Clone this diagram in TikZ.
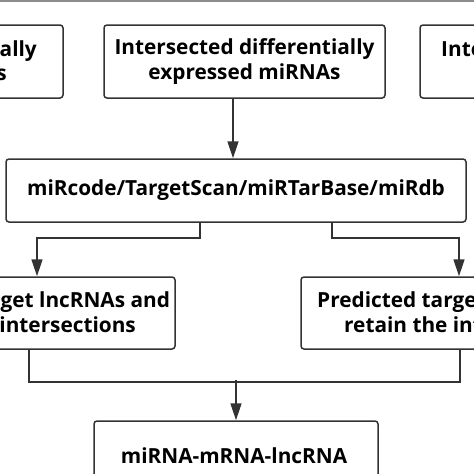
\documentclass[tikz,border=0pt]{standalone}
\usepackage{fontspec}
\setmainfont{Open Sans}
\usepackage{tikz}
\usetikzlibrary{arrows.meta}
\usetikzlibrary{calc}
\tikzset{>=latex}
\colorlet{edgecol}{black!80}

\begin{document}
\begin{tikzpicture}[x=1pt, y=-1pt,
        box/.style={draw=edgecol, line width=1.5pt, rounded corners=3pt, inner sep=0pt, align=center,
                font=\fontsize{20.8}{24.5}\selectfont\bfseries},
        txt/.style={inner sep=0pt, font=\fontsize{20.8}{24.5}\selectfont\bfseries},
        flow/.style={draw=edgecol, line width=1.5pt, -{Triangle[length=17pt,width=11pt]}},
        link/.style={draw=edgecol, line width=1.5pt}]
                \useasboundingbox (0,0) rectangle (474,474);
                \clip (0,0) rectangle (474,474);
                % frame edge at the top
                \fill[black!45] (0,0) rectangle (474,2);

                % top row
                \node[box, minimum width=163pt, minimum height=73pt] (dmrna) at (-18.5,61.5) {};
                \node[box, minimum width=281pt, minimum height=73pt] (dmirna) at (244.5,61.5) {Intersected differentially\\expressed miRNAs};
                \node[box, minimum width=160pt, minimum height=73pt] (dlnc) at (500,61.5) {};
                \node[txt, anchor=base east] (dmrnaa) at (37,56) {ally};
                \node[txt, anchor=base east] (dmrnab) at (7,80) {s};
                \node[txt, anchor=base west] (dlnca) at (441,56) {Inte};

                % databases
                \node[box, minimum width=460pt, minimum height=63pt] (db) at (236,190.5) {miRcode/TargetScan/miRTarBase/miRdb};

                % predicted targets
                \node[box, minimum width=275pt, minimum height=72pt] (tlnc) at (37.5,313) {};
                \node[box, minimum width=299pt, minimum height=72pt] (tmrna) at (450.5,313) {};
                \node[txt, anchor=base west] (tlnca) at (0.5,307) {get lncRNAs and};
                \node[txt, anchor=base east] (tlncb) at (136,332) {intersections};
                \node[txt, anchor=base west] (tmrnaa) at (317,307) {Predicted targe};
                \node[txt, anchor=base west] (tmrnab) at (344,332) {retain the int};

                % network
                \node[box, minimum width=284pt, minimum height=99pt] (net) at (236,470.5) {};
                \node[txt, anchor=base] (neta) at (234,463) {miRNA-mRNA-lncRNA};

                % miRNAs to databases
                \draw[flow] ([xshift=-11.5pt]dmirna.south) -- ([xshift=-11.5pt]dmirna.south |- db.north);
                % databases to lncRNAs
                \draw[flow] ([xshift=-36pt]db.south) -- ++(0,15) -| ([xshift=-0.5pt]tlnc.north);
                % databases to mRNAs
                \draw[flow] ([xshift=96pt]db.south) -- ++(0,15) -| ([xshift=8.5pt]tmrna.north);
                % both to network
                \draw[link] ([xshift=-8.5pt]tlnc.south) -- ++(0,32) -| ([xshift=9.5pt]tmrna.south);
                \draw[flow] ([yshift=40pt]net.north) -- (net.north);
            \end{tikzpicture}
\end{document}
